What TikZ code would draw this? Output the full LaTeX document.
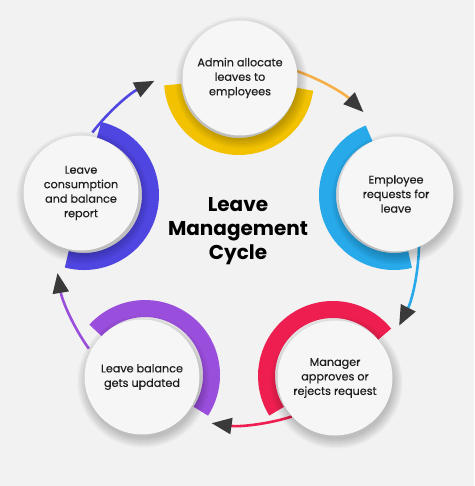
\documentclass[tikz,border=0pt]{standalone}
\usepackage{fontspec}
\setmainfont{Poppins}
\newfontfamily\nodefont{Poppins}[FakeBold=0.35]
\usetikzlibrary{arrows.meta,calc}
\definecolor{bg}{HTML}{F2F2F2}
\definecolor{bubblefill}{HTML}{F6F6F6}
\definecolor{txt}{HTML}{1E1E1E}
\definecolor{tipgray}{HTML}{3A3A3A}
\definecolor{cyellow}{HTML}{F2C200}
\definecolor{cblue}{HTML}{27A9EA}
\definecolor{cred}{HTML}{EE1F50}
\definecolor{cpurple}{HTML}{9A4EDC}
\definecolor{cindigo}{HTML}{4F45E0}
\definecolor{corange}{HTML}{F6B04A}
\tikzset{
  ringarc/.style={line width=17pt},
  flowline/.style={line width=2.6pt, -{Triangle[length=20pt,width=16pt,color=tipgray]}},
  bubble/.style={circle, minimum size=115pt, inner sep=0pt, fill=bubblefill, align=center,
    text=txt, font=\nodefont\fontsize{11.2}{14.5}\selectfont},
  titletext/.style={align=center, text=black, font=\fontsize{20}{24}\selectfont\bfseries},
}
\begin{document}
\begin{tikzpicture}[x=1pt,y=1pt]
\useasboundingbox (0,0) rectangle (474,486);
\fill[bg] (0,0) rectangle (474,486);
\coordinate (O) at (237,243);
% ring centres
\coordinate (rA) at (239,406);
\coordinate (rB) at (394,291);
\coordinate (rC) at (333,110);
\coordinate (rD) at (145,111);
\coordinate (rE) at (84,291);
% bubble centres
\coordinate (cA) at (240,408);
\coordinate (cB) at (396,292);
\coordinate (cC) at (335,108);
\coordinate (cD) at (142,109);
\coordinate (cE) at (81,293);
% rings
\draw[ringarc, cyellow] ($(rA)+(184:66.5)$) arc[start angle=184, end angle=352, radius=66.5];
\draw[ringarc, cblue]   ($(rB)+(112:66.5)$) arc[start angle=112, end angle=284, radius=66.5];
\draw[ringarc, cred]    ($(rC)+(39:66.5)$)  arc[start angle=39,  end angle=212, radius=66.5];
\draw[ringarc, cpurple] ($(rD)+(-33:66.5)$) arc[start angle=-33, end angle=138, radius=66.5];
\draw[ringarc, cindigo] ($(rE)+(-105:66.5)$) arc[start angle=-105, end angle=77, radius=66.5];
% connectors (arcs round the centre)
\coordinate (sA) at ($(O)+(71:182)$);
\coordinate (sB) at ($(O)+(-1:182)$);
\coordinate (sC) at ($(O)+(-72.5:182)$);
\coordinate (sD) at ($(O)+(215.5:182)$);
\coordinate (sE) at ($(O)+(142.6:182)$);
\draw[flowline, corange] (sA) arc[start angle=71, end angle=46, radius=182];
\draw[flowline, cblue]   (sB) arc[start angle=-1, end angle=-27, radius=182];
\draw[flowline, cred]    (sC) arc[start angle=-72.5, end angle=-98, radius=182];
\draw[flowline, cpurple] (sD) arc[start angle=215.5, end angle=189.5, radius=182];
\draw[flowline, cindigo] (sE) arc[start angle=142.6, end angle=117, radius=182];
% shadows
\foreach \c in {cA,cB,cC,cD,cE}{
  \foreach \r in {57,58.5,60,61.5,63,64.5,66}{
    \fill[black, opacity=0.03] ($(\c)+(1.5,-4.5)$) circle (\r);
  }
}
% bubbles
\node[bubble] (A) at (cA) {Admin allocate\\leaves to\\employees};
\node[bubble] (B) at (cB) {Employee\\requests for\\leave};
\node[bubble] (C) at (cC) {Manager\\approves or\\rejects request};
\node[bubble] (D) at (cD) {Leave balance\\gets updated};
\node[bubble] (E) at (cE) {Leave\\consumption\\and balance\\report};
% title
\node[titletext] (T) at (238,255) {Leave\\Management\\Cycle};
\end{tikzpicture}
\end{document}
